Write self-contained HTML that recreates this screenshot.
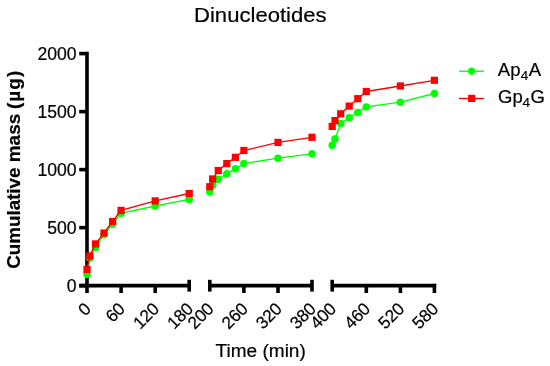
<!DOCTYPE html>
<html><head><meta charset="utf-8"><title>Dinucleotides</title>
<style>html,body{margin:0;padding:0;background:#fff}body{width:550px;height:366px;overflow:hidden}</style></head>
<body>
<svg width="550" height="366" viewBox="0 0 550 366" style="display:block">
<rect width="550" height="366" fill="#fff"/>
<g stroke="#000" stroke-width="3.6" fill="none">
<path d="M87,51.8 V293"/>
<path d="M79.2,285.65 H87"/>
<path d="M79.2,227.64 H87"/>
<path d="M79.2,169.62 H87"/>
<path d="M79.2,111.61 H87"/>
<path d="M79.2,53.60 H87"/>
<path d="M79.2,285.65 H189.2"/>
<path d="M189.2,279.8 V291.6"/>
<path d="M121.1,285.65 V293"/>
<path d="M155.2,285.65 V293"/>
<path d="M209.8,285.65 H312.0"/>
<path d="M209.8,279.8 V291.6"/>
<path d="M312.0,279.8 V291.6"/>
<path d="M243.9,285.65 V293"/>
<path d="M278.0,285.65 V293"/>
<path d="M332.2,285.65 H436.2"/>
<path d="M332.2,279.8 V291.6"/>
<path d="M434.4,283.85 V293"/>
<path d="M366.3,285.65 V293"/>
<path d="M400.4,285.65 V293"/>
</g>
<polyline fill="none" stroke="#00ff00" stroke-width="1.35" points="87.0,274.5 89.8,258.0 95.5,247.5 104.0,234.7 112.6,224.2 121.1,213.3 155.2,206.0 189.2,199.4"/>
<circle cx="87.0" cy="274.5" r="3.75" fill="#00ff00"/>
<circle cx="89.8" cy="258.0" r="3.75" fill="#00ff00"/>
<circle cx="95.5" cy="247.5" r="3.75" fill="#00ff00"/>
<circle cx="104.0" cy="234.7" r="3.75" fill="#00ff00"/>
<circle cx="112.6" cy="224.2" r="3.75" fill="#00ff00"/>
<circle cx="121.1" cy="213.3" r="3.75" fill="#00ff00"/>
<circle cx="155.2" cy="206.0" r="3.75" fill="#00ff00"/>
<circle cx="189.2" cy="199.4" r="3.75" fill="#00ff00"/>
<polyline fill="none" stroke="#00ff00" stroke-width="1.35" points="209.8,192.0 212.6,185.2 218.3,179.3 226.8,173.8 235.4,168.8 243.9,163.6 278.0,158.2 312.0,153.8"/>
<circle cx="209.8" cy="192.0" r="3.75" fill="#00ff00"/>
<circle cx="212.6" cy="185.2" r="3.75" fill="#00ff00"/>
<circle cx="218.3" cy="179.3" r="3.75" fill="#00ff00"/>
<circle cx="226.8" cy="173.8" r="3.75" fill="#00ff00"/>
<circle cx="235.4" cy="168.8" r="3.75" fill="#00ff00"/>
<circle cx="243.9" cy="163.6" r="3.75" fill="#00ff00"/>
<circle cx="278.0" cy="158.2" r="3.75" fill="#00ff00"/>
<circle cx="312.0" cy="153.8" r="3.75" fill="#00ff00"/>
<polyline fill="none" stroke="#00ff00" stroke-width="1.35" points="332.2,145.3 335.0,138.9 340.7,123.6 349.2,117.7 357.8,112.4 366.3,106.9 400.4,102.2 434.4,93.5"/>
<circle cx="332.2" cy="145.3" r="3.75" fill="#00ff00"/>
<circle cx="335.0" cy="138.9" r="3.75" fill="#00ff00"/>
<circle cx="340.7" cy="123.6" r="3.75" fill="#00ff00"/>
<circle cx="349.2" cy="117.7" r="3.75" fill="#00ff00"/>
<circle cx="357.8" cy="112.4" r="3.75" fill="#00ff00"/>
<circle cx="366.3" cy="106.9" r="3.75" fill="#00ff00"/>
<circle cx="400.4" cy="102.2" r="3.75" fill="#00ff00"/>
<circle cx="434.4" cy="93.5" r="3.75" fill="#00ff00"/>
<polyline fill="none" stroke="#ff0000" stroke-width="1.35" points="87.0,269.5 89.8,256.0 95.5,243.9 104.0,233.0 112.6,221.5 121.1,210.4 155.2,200.9 189.2,193.5"/>
<rect x="83.4" y="265.9" width="7.2" height="7.2" fill="#ff0000"/>
<rect x="86.2" y="252.4" width="7.2" height="7.2" fill="#ff0000"/>
<rect x="91.9" y="240.3" width="7.2" height="7.2" fill="#ff0000"/>
<rect x="100.4" y="229.4" width="7.2" height="7.2" fill="#ff0000"/>
<rect x="109.0" y="217.9" width="7.2" height="7.2" fill="#ff0000"/>
<rect x="117.5" y="206.8" width="7.2" height="7.2" fill="#ff0000"/>
<rect x="151.6" y="197.3" width="7.2" height="7.2" fill="#ff0000"/>
<rect x="185.6" y="189.9" width="7.2" height="7.2" fill="#ff0000"/>
<polyline fill="none" stroke="#ff0000" stroke-width="1.35" points="209.8,186.7 212.6,179.0 218.3,170.5 226.8,163.6 235.4,157.3 243.9,150.5 278.0,142.4 312.0,137.3"/>
<rect x="206.2" y="183.1" width="7.2" height="7.2" fill="#ff0000"/>
<rect x="209.0" y="175.4" width="7.2" height="7.2" fill="#ff0000"/>
<rect x="214.7" y="166.9" width="7.2" height="7.2" fill="#ff0000"/>
<rect x="223.2" y="160.0" width="7.2" height="7.2" fill="#ff0000"/>
<rect x="231.8" y="153.7" width="7.2" height="7.2" fill="#ff0000"/>
<rect x="240.3" y="146.9" width="7.2" height="7.2" fill="#ff0000"/>
<rect x="274.4" y="138.8" width="7.2" height="7.2" fill="#ff0000"/>
<rect x="308.4" y="133.7" width="7.2" height="7.2" fill="#ff0000"/>
<polyline fill="none" stroke="#ff0000" stroke-width="1.35" points="332.2,126.4 335.0,120.6 340.7,113.8 349.2,106.1 357.8,98.7 366.3,91.5 400.4,86.0 434.4,80.3"/>
<rect x="328.6" y="122.8" width="7.2" height="7.2" fill="#ff0000"/>
<rect x="331.4" y="117.0" width="7.2" height="7.2" fill="#ff0000"/>
<rect x="337.1" y="110.2" width="7.2" height="7.2" fill="#ff0000"/>
<rect x="345.6" y="102.5" width="7.2" height="7.2" fill="#ff0000"/>
<rect x="354.2" y="95.1" width="7.2" height="7.2" fill="#ff0000"/>
<rect x="362.7" y="87.9" width="7.2" height="7.2" fill="#ff0000"/>
<rect x="396.8" y="82.4" width="7.2" height="7.2" fill="#ff0000"/>
<rect x="430.8" y="76.7" width="7.2" height="7.2" fill="#ff0000"/>
<g font-family="Liberation Sans, Arial, sans-serif" fill="#000" stroke="#000" stroke-width="0.2">
<text transform="translate(260.3,22.1) scale(1.052,1)" font-size="21" text-anchor="middle">Dinucleotides</text>
<text x="76.6" y="291.5" font-size="17.6" text-anchor="end">0</text>
<text x="76.6" y="233.5" font-size="17.6" text-anchor="end">500</text>
<text x="76.6" y="175.5" font-size="17.6" text-anchor="end">1000</text>
<text x="76.6" y="117.5" font-size="17.6" text-anchor="end">1500</text>
<text x="76.6" y="59.5" font-size="17.6" text-anchor="end">2000</text>
<text transform="translate(91.9,310.0) rotate(-45)" font-size="17.3" letter-spacing="-0.2" text-anchor="end">0</text>
<text transform="translate(126.0,310.0) rotate(-45)" font-size="17.3" letter-spacing="-0.2" text-anchor="end">60</text>
<text transform="translate(160.1,310.0) rotate(-45)" font-size="17.3" letter-spacing="-0.2" text-anchor="end">120</text>
<text transform="translate(194.1,310.0) rotate(-45)" font-size="17.3" letter-spacing="-0.2" text-anchor="end">180</text>
<text transform="translate(214.7,310.0) rotate(-45)" font-size="17.3" letter-spacing="-0.2" text-anchor="end">200</text>
<text transform="translate(248.8,310.0) rotate(-45)" font-size="17.3" letter-spacing="-0.2" text-anchor="end">260</text>
<text transform="translate(282.9,310.0) rotate(-45)" font-size="17.3" letter-spacing="-0.2" text-anchor="end">320</text>
<text transform="translate(316.9,310.0) rotate(-45)" font-size="17.3" letter-spacing="-0.2" text-anchor="end">380</text>
<text transform="translate(337.1,310.0) rotate(-45)" font-size="17.3" letter-spacing="-0.2" text-anchor="end">400</text>
<text transform="translate(371.2,310.0) rotate(-45)" font-size="17.3" letter-spacing="-0.2" text-anchor="end">460</text>
<text transform="translate(405.3,310.0) rotate(-45)" font-size="17.3" letter-spacing="-0.2" text-anchor="end">520</text>
<text transform="translate(439.3,310.0) rotate(-45)" font-size="17.3" letter-spacing="-0.2" text-anchor="end">580</text>
<text transform="translate(260.7,356.8) scale(1.04,1)" font-size="18.3" text-anchor="middle">Time (min)</text>
<text transform="translate(20.1,268.8) rotate(-90)" font-size="18.80" letter-spacing="0.00" font-weight="bold">Cumulative</text>
<text transform="translate(20.1,162.3) rotate(-90)" font-size="19.00" letter-spacing="0.00" font-weight="bold">mass</text>
<text transform="translate(20.1,109.0) rotate(-90)" font-size="19.00" letter-spacing="1.00" font-weight="bold">(µg)</text>
<text x="497.8" y="75.5" font-size="18.5">Ap<tspan font-size="13.6" dy="4.5" dx="0.2">4</tspan><tspan dy="-4.5" dx="0.6">A</tspan></text>
<text x="498.1" y="102.5" font-size="18.5">Gp<tspan font-size="13.6" dy="4.5" dx="-0.2">4</tspan><tspan dy="-4.5" dx="0.4">G</tspan></text>
</g>
<path d="M459,71.2 H484" stroke="#00ff00" stroke-width="1.35"/><circle cx="471.6" cy="71.1" r="3.6" fill="#00ff00"/>
<path d="M459,98.5 H484" stroke="#ff0000" stroke-width="1.35"/><rect x="468.1" y="94.8" width="7.2" height="7.2" fill="#ff0000"/>
</svg>
</body></html>
